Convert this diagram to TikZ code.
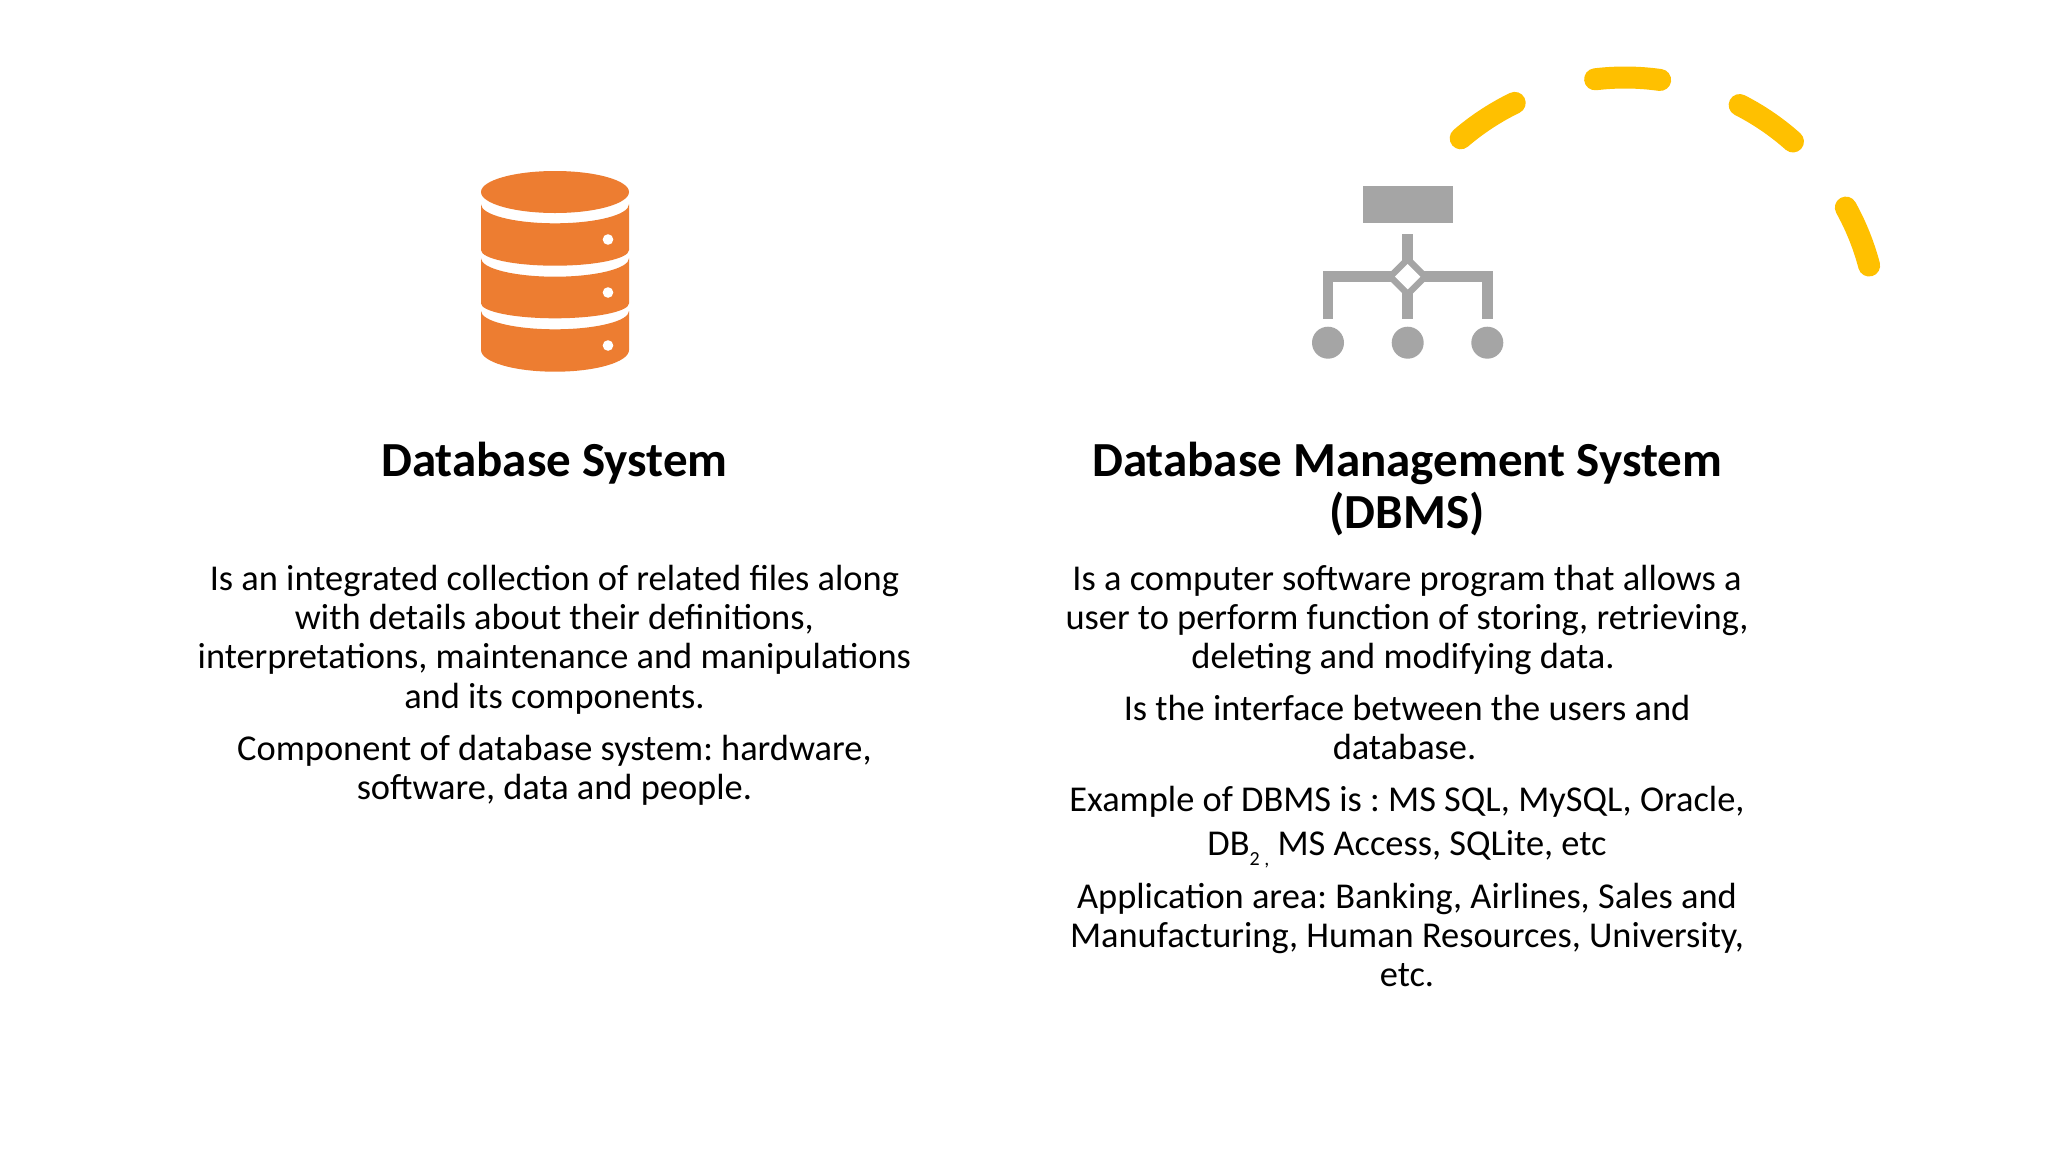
\documentclass[tikz,border=0pt]{standalone}
\usepackage{fontspec}
\setmainfont{Carlito}
\frenchspacing
\definecolor{dborange}{HTML}{ED7D31}
\definecolor{hiergray}{HTML}{A5A5A5}
\definecolor{arcyellow}{HTML}{FFC000}
\newcommand{\dbband}[4]{%
  \fill[dborange] (481,#1)
    .. controls (481,{#1+0.5523*(#2-#1)}) and ({555-74*0.5523},#2) .. (555,#2)
    .. controls ({555+74*0.5523},#2) and (629,{#1+0.5523*(#2-#1)}) .. (629,#1)
    -- (629,#3)
    .. controls (629,{#3+0.5523*(#4-#3)}) and ({555+74*0.5523},#4) .. (555,#4)
    .. controls ({555-74*0.5523},#4) and (481,{#3+0.5523*(#4-#3)}) .. (481,#3) -- cycle;}
\newcommand{\arcdash}[2]{%
  \draw[yellowdash] plot[smooth,samples=12,domain=#1:#2] ({1625+252.5*cos(\x)},{330-252.5*sin(\x)});}
\tikzset{
  x=1pt,y=-1pt,
  titletext/.style={anchor=north,inner sep=0pt,align=center,font=\fontsize{49}{52}\selectfont\bfseries},
  bodytext/.style={anchor=north,inner sep=0pt,align=center,font=\fontsize{36.4}{39.2}\selectfont},
  yellowdash/.style={draw=arcyellow,line width=22pt,line cap=round},
  hierline/.style={fill=hiergray},
}
\begin{document}
\begin{tikzpicture}
\useasboundingbox[fill=white] (0,0) rectangle (2048,1152);
% database icon
\fill[dborange] (555,192) ellipse [x radius=74pt,y radius=21pt];
\dbband{204.3}{223.3}{250}{265.7}
\dbband{258.3}{276.7}{303.3}{318.3}
\dbband{311}{329.3}{350}{371.7}
\fill[white] (608,239.5) circle [radius=5.3pt];
\fill[white] (608,292.5) circle [radius=5.3pt];
\fill[white] (608,345.5) circle [radius=5.3pt];
% hierarchy icon
\fill[hierline] (1362.7,186) rectangle (1453,223.3);
\fill[hierline] (1402.3,234) rectangle (1413,265);
\fill[hierline] (1322.7,271) rectangle (1492.7,281.7);
\fill[hierline] (1322.7,271) rectangle (1333.3,319);
\fill[hierline] (1482,271) rectangle (1492.7,319);
\fill[hierline] (1402.3,285) rectangle (1413,319);
\fill[hierline] (1407.7,254.7) -- (1429.7,276.7) -- (1407.7,298.7) -- (1385.7,276.7) -- cycle;
\fill[white] (1407.7,264) -- (1420.4,276.7) -- (1407.7,289.4) -- (1395,276.7) -- cycle;
\fill[hiergray] (1328,342.7) circle [radius=16pt];
\fill[hiergray] (1407.7,342.7) circle [radius=16pt];
\fill[hiergray] (1487.3,342.7) circle [radius=16pt];
% dashed arc
\arcdash{130.6}{115.9}
\arcdash{96.8}{82}
\arcdash{63}{48.3}
\arcdash{29}{14.8}
% texts
\node[titletext] (lefttitle) at (554.4,442) {Database System};
\node[titletext] (righttitle) at (1407,442) {Database Management System\\(DBMS)};
\node[bodytext] (leftone) at (554.4,565) {Is an integrated collection of related files along\\with details about their definitions,\\interpretations, maintenance and manipulations\\and its components.};
\node[bodytext] (lefttwo) at (554.4,735) {Component of database system: hardware,\\software, data and people.};
\node[bodytext] (rightone) at (1407,565) {Is a computer software program that allows a\\user to perform function of storing, retrieving,\\deleting and modifying data.\kern8pt};
\node[bodytext] (righttwo) at (1407,695) {Is the interface between the users and\\database.\kern5pt};
\node[bodytext] (rightthree) at (1407,786) {Example of DBMS is : MS SQL, MySQL, Oracle,\\[5pt]DB\raisebox{-0.28em}{\fontsize{20}{20}\selectfont 2 ,} MS Access, SQLite, etc};
\node[bodytext] (rightfour) at (1407,883) {Application area: Banking, Airlines, Sales and\\Manufacturing, Human Resources, University,\\etc.};
\end{tikzpicture}
\end{document}
